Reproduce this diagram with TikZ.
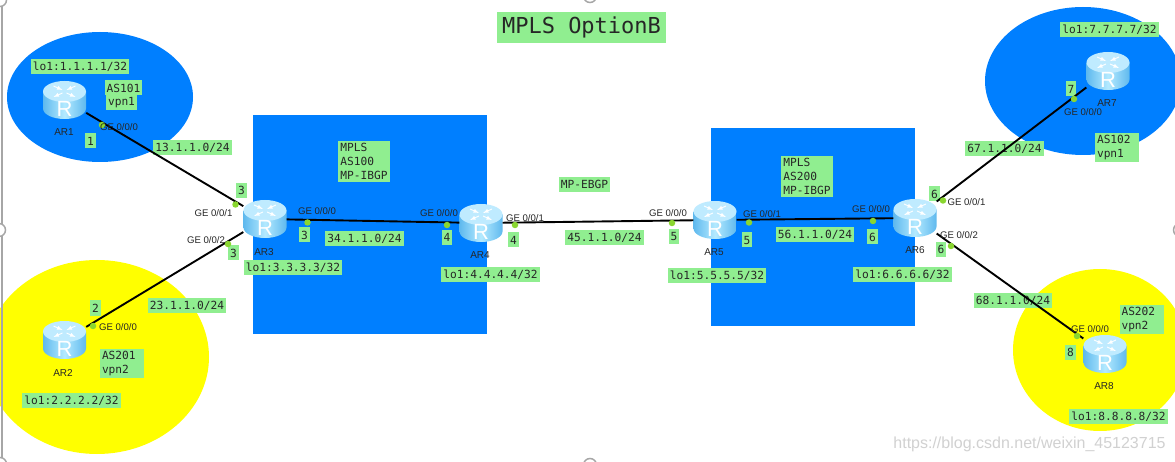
\documentclass[tikz,border=0pt]{standalone}
\usepackage{fontspec}
\usepackage{xcolor}
\setmainfont{Liberation Sans}
\setmonofont{DejaVu Sans Mono}
\usepackage{tikz}
\usetikzlibrary{positioning,calc}
\definecolor{zoneblue}{HTML}{007FFF}
\definecolor{zoneyellow}{HTML}{FFFF00}
\definecolor{tagfill}{HTML}{90EE90}
\definecolor{portgreen}{HTML}{8AD630}
\definecolor{handlegray}{HTML}{A6A6A6}
\definecolor{routerside}{HTML}{5FB9EE}
\definecolor{routermid}{HTML}{B4EAFF}
\definecolor{routertop}{HTML}{BFEBFF}

\begin{document}
\begin{tikzpicture}[
	x=1pt, y=-1pt,
	% Vung AS
	zone_blue/.style={fill=zoneblue, draw=none},
	zone_yellow/.style={fill=zoneyellow, draw=none},
	% Nhan xanh la
	tag/.style={
		fill=tagfill, inner xsep=2pt, inner ysep=0pt, minimum height=15pt,
		font=\fontsize{11.2}{14.4}\selectfont\ttfamily, text=black!85, align=left
	},
	big_tag/.style={tag, font=\fontsize{22}{24}\selectfont\ttfamily, minimum height=31pt, inner xsep=5pt},
	block_tag/.style={tag, inner ysep=1.5pt},
	wide_tag/.style={block_tag, text width=40pt},
	% Ten cong
	port_name/.style={font=\fontsize{9.6}{10}\selectfont, text=black!85, inner sep=0pt},
	port_dot/.style={circle, fill=portgreen, minimum size=6.5pt, inner sep=0pt},
	% Ten router
	router_name/.style={font=\fontsize{10}{10}\selectfont, text=black!85, inner sep=0pt},
	link/.style={draw=black, line width=1.9pt},
	handle/.style={circle, draw=handlegray, line width=1.5pt, fill=white, minimum size=13pt, inner sep=0pt},
	% Router: chu R tren than hinh tru
	router/.style={
		rectangle, minimum width=43pt, minimum height=38pt, inner sep=0pt,
		text=white, font=\fontsize{22}{22}\selectfont, text height=33pt, text depth=0pt
	},
	router_body/.pic={
		\shade[left color=routerside, right color=routerside, middle color=routermid]
		(-21.5,-8.5) -- (-21.5,8.5) arc[start angle=180, end angle=0, x radius=21.5, y radius=10.5] -- (21.5,-8.5) -- cycle;
		\fill[routertop] (0,-8.5) ellipse[x radius=21.5, y radius=10.5];
		\draw[white, line width=.9pt, -latex] (-11,-14) -- (-2,-10);
		\draw[white, line width=.9pt, -latex] (11,-14) -- (2,-10);
		\draw[white, line width=.9pt, -latex] (-2,-7) -- (-11,-3);
		\draw[white, line width=.9pt, -latex] (2,-7) -- (11,-3);
	}
	]
	\clip (0,0) rectangle (1175,462);
	\fill[white] (0,0) rectangle (1175,462);

	% --- Vung nen ---
	\fill[zone_blue] (100,97) ellipse[x radius=93, y radius=65];
	\fill[zone_yellow] (97,357) ellipse[x radius=112, y radius=97];
	\fill[zone_blue] (253,115) rectangle (487,334);
	\fill[zone_blue] (711,128) rectangle (915,326);
	\fill[zone_blue] (1083,81) ellipse[x radius=98, y radius=74];
	\fill[zone_yellow] (1100,350) ellipse[x radius=87, y radius=81];

	% --- Khung chon ---
	\draw[handlegray, line width=1.5pt] (2,0) -- (2,462);
	\node[handle] (h_tl) at (0,0) {};
	\node[handle] (h_top) at (590,-4) {};
	\node[handle] (h_left) at (-1,230) {};
	\node[handle] (h_bl) at (0,464) {};
	\node[handle] (h_bot) at (590,465) {};
	\node[handle] (h_right) at (1180,230) {};

	% --- Router ---
	\foreach \px/\py in {64.5/100, 64.5/340, 265/219, 481/223, 715/220, 915/218, 1108/71, 1105/354} {
		\pic at (\px,\py) {router_body};
	}
	\node[router] (ar1) at (64.5,100) {R};
	\node[router] (ar2) at (64.5,340) {R};
	\node[router] (ar3) at (265,219) {R};
	\node[router] (ar4) at (481,223) {R};
	\node[router] (ar5) at (715,220) {R};
	\node[router] (ar6) at (915,218) {R};
	\node[router] (ar7) at (1108,71) {R};
	\node[router] (ar8) at (1105,354) {R};

	\node[router_name] (n1) at (64,132) {AR1};
	\node[router_name] (n2) at (63,373) {AR2};
	\node[router_name] (n3) at (264,252) {AR3};
	\node[router_name] (n4) at (480,255) {AR4};
	\node[router_name] (n5) at (714,252) {AR5};
	\node[router_name] (n6) at (915,250) {AR6};
	\node[router_name] (n7) at (1107,103) {AR7};
	\node[router_name] (n8) at (1104,386) {AR8};

	% --- Nhan ---
	\node[big_tag] (title) at (581.5,27.5) {MPLS OptionB};
	\node[tag] (lo1) at (80,66.5) {lo1:1.1.1.1/32};
	\node[tag] (lo2) at (71.5,400.5) {lo1:2.2.2.2/32};
	\node[tag] (lo3) at (293,267.5) {lo1:3.3.3.3/32};
	\node[tag] (lo4) at (490.5,275) {lo1:4.4.4.4/32};
	\node[tag] (lo5) at (717,275.5) {lo1:5.5.5.5/32};
	\node[tag] (lo6) at (902.5,274.5) {lo1:6.6.6.6/32};
	\node[tag] (lo7) at (1109.5,29.5) {lo1:7.7.7.7/32};
	\node[tag] (lo8) at (1118.5,416.5) {lo1:8.8.8.8/32};

	\node[tag] (as101) at (123.5,88) {AS101};
	\node[tag] (vpn1a) at (121.5,103) {vpn1};
	\node[wide_tag] (as201) at (122,363.5) {AS201\\vpn2};
	\node[block_tag] (as100) at (364,161.5) {MPLS\\AS100\\MP-IBGP};
	\node[block_tag] (as200) at (807,176.5) {MPLS\\AS200\\MP-IBGP};
	\node[wide_tag] (as102) at (1117,147.5) {AS102\\vpn1};
	\node[wide_tag] (as202) at (1141.5,319.5) {AS202\\vpn2};
	\node[tag] (ebgp) at (584.5,184.5) {MP-EBGP};

	\node[tag] (net13) at (192.5,148) {13.1.1.0/24};
	\node[tag] (net23) at (187,305.5) {23.1.1.0/24};
	\node[tag] (net34) at (364.5,239) {34.1.1.0/24};
	\node[tag] (net45) at (604.5,237.5) {45.1.1.0/24};
	\node[tag] (net56) at (815,235) {56.1.1.0/24};
	\node[tag] (net67) at (1004.5,148.5) {67.1.1.0/24};
	\node[tag] (net68) at (1013,300.5) {68.1.1.0/24};

	% So cuoi cua dia chi
	\node[tag] (t1) at (90.5,141) {1};
	\node[tag] (t2) at (95.5,308) {2};
	\node[tag] (t3a) at (241.5,190.5) {3};
	\node[tag] (t3b) at (304.5,235) {3};
	\node[tag] (t3c) at (233.5,253) {3};
	\node[tag] (t4a) at (447,237.5) {4};
	\node[tag] (t4b) at (513.5,240) {4};
	\node[tag] (t5a) at (674,236.5) {5};
	\node[tag] (t5b) at (747,240) {5};
	\node[tag] (t6a) at (872.5,237) {6};
	\node[tag] (t6b) at (934.5,194) {6};
	\node[tag] (t6c) at (941,249.5) {6};
	\node[tag] (t7) at (1071,89) {7};
	\node[tag] (t8) at (1070.5,352) {8};

	% --- Duong noi ---
	\draw[link] (ar1) -- (ar3);
	\draw[link] (ar2) -- (ar3);
	\draw[link] (ar3) -- (ar4);
	\draw[link] (ar4) -- (ar5);
	\draw[link] (ar5) -- (ar6);
	\draw[link] (ar6) -- (ar7);
	\draw[link] (ar6) -- (ar8);

	% --- Cong ---
	\node[port_dot] (p1) at (102,125) {};
	\node[port_dot] (p2) at (93,326) {};
	\node[port_dot] (p3a) at (235.5,204.5) {};
	\node[port_dot] (p3b) at (307.5,222.5) {};
	\node[port_dot] (p3c) at (228,244) {};
	\node[port_dot] (p4a) at (447,225) {};
	\node[port_dot] (p4b) at (515,225) {};
	\node[port_dot] (p5a) at (672,223) {};
	\node[port_dot] (p5b) at (749,222.5) {};
	\node[port_dot] (p6a) at (873,221) {};
	\node[port_dot] (p6b) at (943,200.5) {};
	\node[port_dot] (p6c) at (951,246) {};
	\node[port_dot] (p7) at (1074,99) {};
	\node[port_dot] (p8) at (1077,336) {};

	\node[port_name] (g1) at (119,127) {GE 0/0/0};
	\node[port_name] (g2) at (118,327) {GE 0/0/0};
	\node[port_name] (g3a) at (213.5,213) {GE 0/0/1};
	\node[port_name] (g3b) at (317,211) {GE 0/0/0};
	\node[port_name] (g3c) at (206,240) {GE 0/0/2};
	\node[port_name] (g4a) at (439,213) {GE 0/0/0};
	\node[port_name] (g4b) at (525,218) {GE 0/0/1};
	\node[port_name] (g5a) at (668,213) {GE 0/0/0};
	\node[port_name] (g5b) at (762,214) {GE 0/0/1};
	\node[port_name] (g6a) at (871,209) {GE 0/0/0};
	\node[port_name] (g6b) at (966.5,202) {GE 0/0/1};
	\node[port_name] (g6c) at (959,235) {GE 0/0/2};
	\node[port_name] (g7) at (1083,112) {GE 0/0/0};
	\node[port_name] (g8) at (1090,329) {GE 0/0/0};

	% Dong chu mo
	\node[font=\fontsize{16}{16}\selectfont, text=black!18, inner sep=0pt] (mark) at (1029.5,444) {https://blog.csdn.net/weixin\_45123715};
\end{tikzpicture}
\end{document}
